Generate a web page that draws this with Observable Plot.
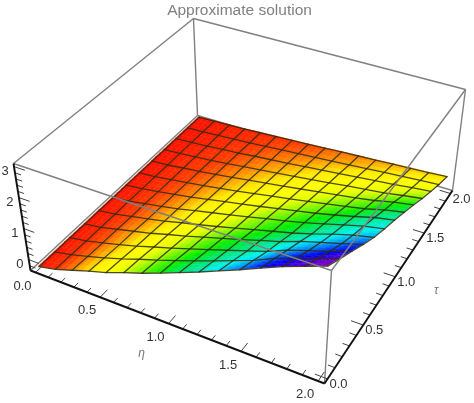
<!DOCTYPE html>
<html><head><meta charset="utf-8">
<script src="https://cdn.jsdelivr.net/npm/d3@7"></script>
<script src="https://cdn.jsdelivr.net/npm/@observablehq/plot@0.6"></script>
<style>html,body{margin:0;padding:0;background:#fff}svg{display:block;filter:blur(0.35px)}</style>
</head><body><div id="chart"></div>
<script>
const title = "Approximate solution";
const etaGrid = [0,0.133,0.267,0.4,0.533,0.667,0.8,0.933,1.067,1.2,1.333,1.467,1.6,1.733,1.867,2];
const tauGrid = [0,0.167,0.333,0.5,0.667,0.833,1,1.167,1.333,1.5,1.667,1.833,2];
// surface heights: one row per eta, one column per tau
const surface = [
[-.28,-.28,-.28,-.28,-.28,-.28,-.28,-.28,-.28,-.28,-.28,-.28,-.28],
[-.16,-.17,-.19,-.20,-.21,-.21,-.22,-.23,-.24,-.24,-.25,-.26,-.26],
[.02,-.02,-.05,-.07,-.10,-.11,-.14,-.16,-.17,-.19,-.21,-.22,-.24],
[.20,.14,.09,.06,.01,-.02,-.05,-.08,-.11,-.14,-.16,-.19,-.22],
[.37,.31,.24,.19,.13,.09,.04,0,-.04,-.08,-.12,-.16,-.19],
[.58,.51,.42,.35,.27,.22,.15,.09,.04,-.01,-.06,-.11,-.16],
[.78,.69,.59,.50,.40,.34,.26,.18,.12,.05,-.01,-.07,-.13],
[1.00,.89,.77,.67,.54,.46,.37,.28,.20,.12,.04,-.03,-.10],
[1.24,1.10,.96,.83,.69,.59,.48,.38,.28,.19,.10,.01,-.07],
[1.48,1.31,1.15,1.00,.84,.73,.60,.48,.37,.26,.16,.06,-.03],
[1.74,1.54,1.34,1.18,.99,.86,.72,.58,.46,.33,.22,.10,0],
[2.00,1.77,1.54,1.35,1.14,1.00,.84,.69,.55,.41,.28,.15,.03],
[2.28,2.05,1.80,1.57,1.32,1.16,.98,.80,.64,.48,.34,.20,.07],
[2.55,2.28,2.00,1.75,1.52,1.33,1.13,.92,.74,.55,.40,.24,.10],
[2.79,2.50,2.20,1.93,1.70,1.50,1.30,1.08,.88,.65,.47,.29,.13],
[3.03,2.72,2.42,2.12,1.84,1.62,1.42,1.20,.98,.74,.53,.33,.17]
];
const colorStops = [-.35,-.1,.05,.2,.55,.75,1.25,1.7,2.2,2.7,3.1];
const colorHues = ["hsl(0,100%,50%)","hsl(15,100%,50%)","hsl(35,100%,50%)","hsl(55,100%,50%)","hsl(66,100%,50%)","hsl(90,100%,48%)","hsl(150,100%,45%)","hsl(185,100%,48%)","hsl(230,100%,48%)","hsl(265,100%,42%)","hsl(290,100%,35%)"];
const majorTicks = [0,0.5,1,1.5,2];
const minorTicks = [0.1,0.2,0.3,0.4,0.6,0.7,0.8,0.9,1.1,1.2,1.3,1.4,1.6,1.7,1.8,1.9];
const zMajor = [0,1,2,3];
const zMinor = [-.2,.2,.4,.6,.8,1.2,1.4,1.6,1.8,2.2,2.4,2.6,2.8];

// camera: where the plot box's corners land on the page
const floorQuad = [[30,270],[324,383],[452,190],[197,115]];
const roofQuad = [[13,163],[331,270],[465,89],[193,18]];
const boxEta = [-.04,2.04], boxTau = [-.04,2.04], boxZ = [-.35,3.1];
function quadMap(q){
  const [[x0,y0],[x1,y1],[x2,y2],[x3,y3]] = q;
  const dx1=x1-x2,dx2=x3-x2,sx=x0-x1+x2-x3,dy1=y1-y2,dy2=y3-y2,sy=y0-y1+y2-y3;
  const den=dx1*dy2-dx2*dy1, g=(sx*dy2-dx2*sy)/den, h=(dx1*sy-sx*dy1)/den;
  const a=x1-x0+g*x1,b=x3-x0+h*x3,d=y1-y0+g*y1,e=y3-y0+h*y3;
  return (u,v)=>{const w=g*u+h*v+1;return [(a*u+b*v+x0)/w,(d*u+e*v+y0)/w];};
}
const mapFloor=quadMap(floorQuad), mapRoof=quadMap(roofQuad);
function P(eta,tau,z){
  const u=(eta-boxEta[0])/(boxEta[1]-boxEta[0]), v=(tau-boxTau[0])/(boxTau[1]-boxTau[0]), t=(z-boxZ[0])/(boxZ[1]-boxZ[0]);
  const a=mapFloor(u,v), b=mapRoof(u,v);
  return [a[0]+(b[0]-a[0])*t, a[1]+(b[1]-a[1])*t];
}
const zLo=boxZ[0], zHi=boxZ[1], eLo=boxEta[0], eHi=boxEta[1], tLo=boxTau[0], tHi=boxTau[1];
const link=(a,b)=>{const p=P(...a),q=P(...b);return {x1:p[0],y1:p[1],x2:q[0],y2:q[1]};};

// surface facets, far to near; each mesh cell is shaded in a few steps so its colour runs smoothly
const shade=3, cells=[];
for(let i=0;i<etaGrid.length-1;i++) for(let j=tauGrid.length-2;j>=0;j--){
  const pt=(s,t)=>{
    const z=(1-s)*(1-t)*surface[i][j]+s*(1-t)*surface[i+1][j]+(1-s)*t*surface[i][j+1]+s*t*surface[i+1][j+1];
    return {p:P(etaGrid[i]+s*(etaGrid[i+1]-etaGrid[i]),tauGrid[j]+t*(tauGrid[j+1]-tauGrid[j]),z),z};
  };
  for(let a=0;a<shade;a++) for(let b=shade-1;b>=0;b--){
    const n00=pt(a/shade,b/shade),n01=pt(a/shade,(b+1)/shade),n10=pt((a+1)/shade,b/shade),n11=pt((a+1)/shade,(b+1)/shade);
    const v=(n00.z+n01.z+n10.z+n11.z)/4,id=[i,j,a,b].join("-");
    cells.push({id,v,x1:n00.p[0],y1:n00.p[1],x2:n01.p[0],y2:n01.p[1]},{id,v,x1:n10.p[0],y1:n10.p[1],x2:n11.p[0],y2:n11.p[1]});
  }
}
const mesh=[];
etaGrid.forEach((e,i)=>tauGrid.forEach((t,j)=>{const p=P(e,t,surface[i][j]);mesh.push({id:"e"+i,x:p[0],y:p[1]});}));
tauGrid.forEach((t,j)=>etaGrid.forEach((e,i)=>{const p=P(e,t,surface[i][j]);mesh.push({id:"t"+j,x:p[0],y:p[1]});}));

const backEdges=[
 link([eLo,tLo,zLo],[eLo,tHi,zLo]), link([eLo,tHi,zLo],[eHi,tHi,zLo]),
 link([eLo,tHi,zLo],[eLo,tHi,zHi]), link([eHi,tHi,zLo],[eHi,tHi,zHi]), link([eHi,tLo,zLo],[eHi,tLo,zHi]),
 link([eLo,tLo,zHi],[eLo,tHi,zHi]), link([eLo,tHi,zHi],[eHi,tHi,zHi])];
const frontEdges=[link([eLo,tLo,zHi],[eHi,tLo,zHi]), link([eHi,tLo,zHi],[eHi,tHi,zHi])];
const axes=[link([eLo,tLo,zLo],[eHi,tLo,zLo]), link([eHi,tLo,zLo],[eHi,tHi,zLo]), link([eLo,tLo,zLo],[eLo,tLo,zHi])];
const ticks=[
 ...majorTicks.map(e=>link([e,tLo,zLo],[e,tLo+.08,zLo])), ...minorTicks.map(e=>link([e,tLo,zLo],[e,tLo+.045,zLo])),
 ...majorTicks.map(t=>link([eHi,t,zLo],[eHi-.08,t,zLo])), ...minorTicks.map(t=>link([eHi,t,zLo],[eHi-.045,t,zLo])),
 ...zMajor.map(z=>link([eLo,tLo,z],[eLo+.08,tLo,z])), ...zMinor.map(z=>link([eLo,tLo,z],[eLo+.045,tLo,z]))];
const lab=(p,text)=>({x:p[0],y:p[1],text});
const fmt=d3.format(".1f");
const etaLabels=majorTicks.map(e=>lab(P(e,tLo,zLo),fmt(e)));
const tauLabels=majorTicks.map(t=>lab(P(eHi,t,zLo),fmt(t)));
const zLabels=zMajor.map(z=>lab(P(eLo,tLo,z),String(z)));

const font="Liberation Sans, Arial, sans-serif";
const plot=Plot.plot({
  width:474,height:403,margin:0,
  x:{domain:[0,474],range:[0,474],axis:null},
  y:{domain:[0,403],range:[0,403],axis:null},
  color:{type:"linear",domain:colorStops,range:colorHues,interpolate:"hsl"},
  style:{background:"#fff",fontFamily:font},
  marks:[
    Plot.link(backEdges,{x1:"x1",y1:"y1",x2:"x2",y2:"y2",stroke:"#808080",strokeWidth:1.4}),
    Plot.area(cells,{x1:"x1",y1:"y1",x2:"x2",y2:"y2",z:"id",fill:"v",stroke:"v",strokeWidth:.5}),
    Plot.line(mesh,{x:"x",y:"y",z:"id",stroke:"#2e2a0c",strokeOpacity:.85,strokeWidth:1.3}),
    Plot.link(frontEdges,{x1:"x1",y1:"y1",x2:"x2",y2:"y2",stroke:"#808080",strokeWidth:1.4}),
    Plot.link(ticks,{x1:"x1",y1:"y1",x2:"x2",y2:"y2",stroke:"#444",strokeWidth:1}),
    Plot.link(axes,{x1:"x1",y1:"y1",x2:"x2",y2:"y2",stroke:"#111",strokeWidth:1.9}),
    Plot.text(etaLabels,{x:"x",y:"y",text:"text",dx:-13,dy:13,fontSize:13,fill:"#333"}),
    Plot.text(tauLabels,{x:"x",y:"y",text:"text",dx:11,dy:5,fontSize:13,fill:"#333"}),
    Plot.text(zLabels,{x:"x",y:"y",text:"text",dx:-9,dy:4,fontSize:13,fill:"#333"}),
    Plot.text([lab(P(1,tLo,zLo),"η")],{x:"x",y:"y",text:"text",dx:-27,dy:30,fontSize:12,fontStyle:"italic",fill:"#777"}),
    Plot.text([lab(P(eHi,1,zLo),"τ")],{x:"x",y:"y",text:"text",dx:41,dy:13,fontSize:12,fontStyle:"italic",fill:"#777"}),
    Plot.text([title],{text:d=>d,frameAnchor:"top",dx:2,dy:3,fontSize:15.5,fill:"#808080"})
  ]
});
document.getElementById("chart").append(plot);
</script></body></html>
